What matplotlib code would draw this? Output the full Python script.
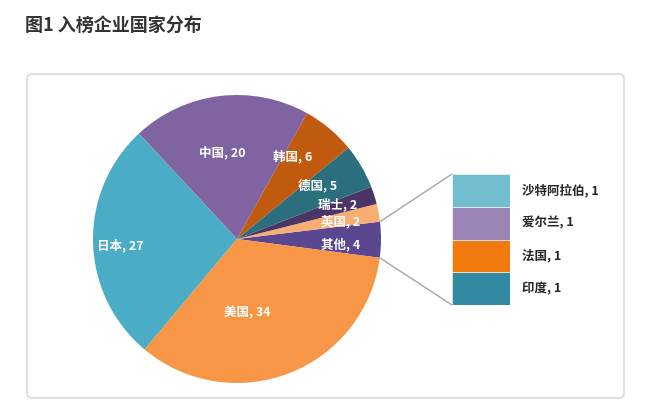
import matplotlib
matplotlib.use("Agg")
import matplotlib.pyplot as plt
import numpy as np
from matplotlib.patches import FancyBboxPatch, ConnectionPatch

plt.rcParams['font.family'] = ['Noto Sans CJK SC', 'DejaVu Sans']

# ---- data ----
title = "图1 入榜企业国家分布"
pie_labels = ["其他", "英国", "瑞士", "德国", "韩国", "中国", "日本", "美国"]
pie_values = [None, 2, 2, 5, 6, 20, 27, 34]   # 其他 = sum of bar values
bar_labels = ["沙特阿拉伯", "爱尔兰", "法国", "印度"]   # top to bottom
bar_values = [1, 1, 1, 1]
pie_values[0] = sum(bar_values)

# ---- style ----
pie_colors = ["#5B4690", "#F8AE72", "#4A3566", "#2B6E7D", "#C05A0E",
              "#8064A2", "#4BACC6", "#F79646"]
bar_colors = ["#72BDCF", "#9A84B6", "#F27A0E", "#3189A2"]
label_r = [0.72, 0.73, 0.74, 0.67, 0.69, 0.61, 0.81, 0.52]
label_da = [-2.5, -1.2, 1.0, 3.4, 5.6, 2.9, 1.5, -13.3]

W, H = 646, 417
fig = plt.figure(figsize=(W / 100, H / 100), dpi=100)
ax = fig.add_axes([0, 0, 1, 1])

cx, cy, R = 237, H - 239, 144
wedges, _ = ax.pie(pie_values, colors=pie_colors, startangle=-7.5,
                   counterclock=True, center=(cx, cy), radius=R,
                   wedgeprops=dict(linewidth=0))
ax.set_xlim(0, W)
ax.set_ylim(0, H)
ax.set_aspect('auto')
ax.axis('off')

for w, lab, v, rf, da in zip(wedges, pie_labels, pie_values, label_r, label_da):
    ang = np.deg2rad((w.theta1 + w.theta2) / 2 + da)
    ax.text(cx + rf * R * np.cos(ang), cy + rf * R * np.sin(ang), f"{lab}, {v}",
            ha='center', va='center', color='white', fontsize=9,
            fontweight='bold')

# frame
ax.add_patch(FancyBboxPatch((27, H - 398), 597, 324,
                            boxstyle="round,pad=0,rounding_size=5",
                            ec="#E0E0E0", fc="none", lw=1.5))

# title
fig.text(25 / W, 1 - 25 / H, title, ha='left', va='center', fontsize=13,
         fontweight='bold', color='#333333')

# bar of pie
bx0, bx1, by_top, by_bot = 452, 510, 174, 305
bax = fig.add_axes([bx0 / W, (H - by_bot) / H, (bx1 - bx0) / W, (by_bot - by_top) / H])
bottom = 0
for lab, v, c in zip(bar_labels[::-1], bar_values[::-1], bar_colors[::-1]):
    bax.bar(0, v, bottom=bottom, width=1, color=c, edgecolor='white', linewidth=0.4)
    bax.text(0.5 + 0.2, bottom + v / 2, f"{lab}, {v}", ha='left', va='center',
             fontsize=9, fontweight='bold', color='#262626', clip_on=False)
    bottom += v
bax.set_xlim(-0.5, 0.5)
bax.set_ylim(0, bottom)
bax.axis('off')

# connectors
w_other = wedges[0]
for theta, corner in [(w_other.theta2, (0, 1)), (w_other.theta1, (0, 0))]:
    t = np.deg2rad(theta)
    p = (cx + R * np.cos(t), cy + R * np.sin(t))
    con = ConnectionPatch(xyA=p, coordsA=ax.transData, xyB=corner,
                          coordsB=bax.transAxes, color="#A6A6A6", lw=1)
    fig.add_artist(con)

fig.savefig("out.png", dpi=100)
